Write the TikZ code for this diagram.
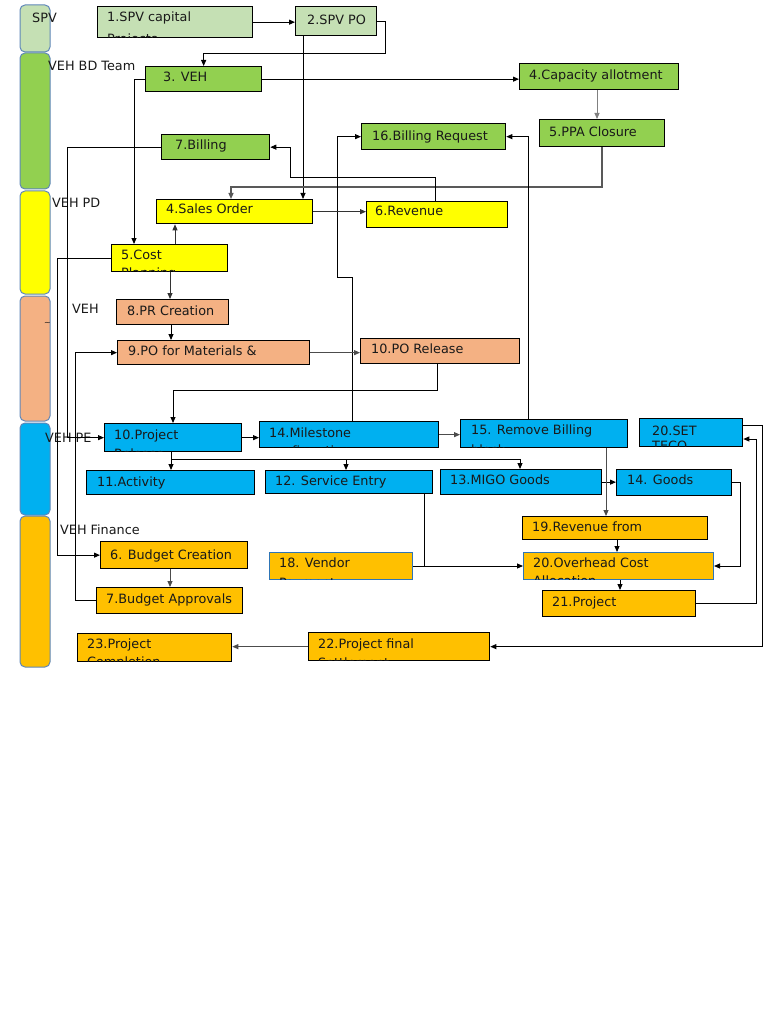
\documentclass[tikz,border=0pt]{standalone}
\usepackage{fontspec}
\setmainfont{DejaVu Sans}
\usetikzlibrary{arrows.meta,calc}
\definecolor{cLG}{HTML}{C5E0B4}
\definecolor{cGR}{HTML}{92D050}
\definecolor{cYE}{HTML}{FFFF00}
\definecolor{cSA}{HTML}{F4B183}
\definecolor{cBL}{HTML}{00B0F0}
\definecolor{cOR}{HTML}{FFC000}
\definecolor{cLane}{RGB}{95,135,185}
\definecolor{cBB}{RGB}{46,117,182}
\newcommand\flowbox[9]{%
  \node[#2, minimum width=#5pt, minimum height=#6pt, anchor=north west] (#1) at (#3,#4) {};
  \node[txt, anchor=base west] (#1-t) at ([shift={(#7pt,-#8pt)}]#1.north west) {#9};
}
\newcommand\flowsub[4]{%
  \begin{scope}
    \clip ([shift={(0.7pt,-0.7pt)}]#1.north west) rectangle ([shift={(-0.7pt,0.7pt)}]#1.south east);
    \node[txt, anchor=base west] (#1-u) at ([shift={(#2pt,-#3pt)}]#1.north west) {#4};
  \end{scope}
}
\begin{document}
\begin{tikzpicture}[x=1pt,y=-1pt,
  txt/.style={inner sep=0pt, font=\fontsize{12.8}{15}\selectfont, text=black!90},
  box/.style={draw=black, line width=1.3pt, fill=#1, inner sep=0pt},
  bbox/.style={draw=cBB, line width=1pt, fill=#1, inner sep=0pt},
  lane/.style={draw=cLane, line width=1pt, rounded corners=5pt, fill=#1},
  arr/.style={-{Triangle[length=6pt,width=5pt]}, line width=0.9pt, draw=black},
  ln/.style={line width=0.9pt, draw=black}]
\fill[white] (0,0) rectangle (768,1024);
\useasboundingbox (0,0) rectangle (768,1024);

% swimlane bars
\draw[lane=cLG] (20,5) rectangle (50,52);
\draw[lane=cGR] (20,53) rectangle (50,189);
\draw[lane=cYE] (20,191) rectangle (50,294);
\draw[lane=cSA] (20,296) rectangle (50,421);
\draw[lane=cBL] (20,423) rectangle (50,515);
\draw[lane=cOR] (20,516) rectangle (50,667);

% lane labels
\node[txt, anchor=base west] (lSPV) at (32,23) {SPV};
\node[txt, anchor=base west] (lBD) at (48,71) {VEH BD Team};
\node[txt, anchor=base west] (lPD) at (52,208) {VEH PD};
\node[txt, anchor=base west] (lVEH) at (72,313) {VEH};
\node[txt, anchor=base west] (lPE) at (45,442) {VEH PE};
\node[txt, anchor=base west] (lFIN) at (60,534) {VEH Finance};
\node[txt, anchor=base west, font=\fontsize{8}{9}\selectfont] (lmark) at (44,325) {\textasciitilde};

% boxes
\flowbox{b1}{box=cLG}{97}{6}{155}{31}{10}{16}{1.SPV capital}
\flowsub{b1}{10}{38}{Projects}
\flowbox{b2}{box=cLG}{295}{6}{81}{29}{12}{19}{2.SPV PO}
\flowbox{b3}{box=cGR}{145}{66}{116}{25}{18}{16}{3. VEH}
\flowbox{b4c}{box=cGR}{519}{63}{159}{26}{10}{17}{4.Capacity allotment}
\flowbox{b5p}{box=cGR}{539}{119}{125}{27}{10}{18}{5.PPA Closure}
\flowbox{b7b}{box=cGR}{161}{134}{108}{25}{14}{16}{7.Billing}
\flowbox{b16}{box=cGR}{361}{123}{144}{26}{11}{18}{16.Billing Request}
\flowbox{bSO}{box=cYE}{156}{199}{156}{24}{10}{15}{4.Sales Order}
\flowbox{bRev}{box=cYE}{366}{201}{141}{26}{9}{15}{6.Revenue}
\flowbox{b5c}{box=cYE}{111}{244}{116}{27}{10}{15}{5.Cost}
\flowsub{b5c}{10}{33}{Planning}
\flowbox{b8}{box=cSA}{116}{299}{112}{25}{11}{16}{8.PR Creation}
\flowbox{b9}{box=cSA}{117}{340}{192}{24}{11}{15}{9.PO for Materials \&}
\flowbox{b10p}{box=cSA}{360}{338}{159}{25}{11}{15}{10.PO Release}
\flowbox{b10j}{box=cBL}{104}{423}{137}{28}{10}{16}{10.Project}
\flowsub{b10j}{10}{35}{Release}
\flowbox{b14m}{box=cBL}{259}{421}{179}{26}{10}{16}{14.Milestone}
\flowsub{b14m}{10}{34}{confirmation}
\flowbox{b15}{box=cBL}{460}{419}{167}{28}{11}{15}{15. Remove Billing}
\flowsub{b15}{11}{35}{block}
\flowbox{b20s}{box=cBL}{639}{418}{103}{28}{13}{17}{20.SET}
\flowsub{b20s}{13}{32}{TECO}
\flowbox{b11}{box=cBL}{86}{470}{168}{24}{11}{16}{11.Activity}
\flowbox{b12}{box=cBL}{265}{470}{167}{23}{10}{15}{12. Service Entry}
\flowbox{b13}{box=cBL}{440}{469}{161}{25}{10}{15}{13.MIGO Goods}
\flowbox{b14g}{box=cBL}{616}{469}{115}{26}{11}{15}{14. Goods}
\flowbox{b19}{box=cOR}{522}{516}{185}{23}{10}{15}{19.Revenue from}
\flowbox{b6bc}{box=cOR}{100}{541}{147}{27}{10}{18}{6. Budget Creation}
\flowbox{b18}{bbox=cOR}{269}{552}{143}{27}{10}{15}{18. Vendor}
\flowsub{b18}{10}{35}{Payment}
\flowbox{b20o}{bbox=cOR}{523}{552}{190}{27}{10}{15}{20.Overhead Cost}
\flowsub{b20o}{10}{33}{Allocation}
\flowbox{b7ba}{box=cOR}{96}{587}{146}{26}{10}{16}{7.Budget Approvals}
\flowbox{b21}{box=cOR}{542}{590}{153}{26}{10}{16}{21.Project}
\flowbox{b23}{box=cOR}{77}{633}{154}{28}{10}{15}{23.Project}
\flowsub{b23}{10}{33}{Completion}
\flowbox{b22}{box=cOR}{308}{632}{181}{28}{10}{16}{22.Project final}
\flowsub{b22}{10}{35}{Settlement}

% connectors
\draw[arr] (b1.east) -- (b1.east -| b2.west);
\draw[arr] (b2.east) -| (385,53) -| (b3.north);
\draw[arr] (303,0 |- b2.south) -- (303,0 |- bSO.north);
\draw[arr] (b3.east) -- (b3.east -| b4c.west);
\draw[arr] (b3.west) -| (134,0 |- b5c.north);
\draw[arr, draw=gray] (597,0 |- b4c.south) -- (597,0 |- b5p.north);
\draw[arr, draw=black!65, line width=1.2pt] (602,0 |- b5p.south) |- (231,187) -- (231,0 |- bSO.north);
\draw[arr] (435,0 |- bRev.north) |- (290,177) |- (b7b.east);
\draw[arr] (352,0 |- b14m.north) |- (337,277) |- (b16.west);
\draw[arr] (528,0 |- b15.north) |- (b16.east);
\draw[arr, draw=black!80] (bSO.east) -- (bSO.east -| bRev.west);
\draw[arr, draw=black!80] (175,0 |- b5c.north) -- (175,0 |- bSO.south);
\draw[arr, draw=black!80] (170,0 |- b5c.south) -- (170,0 |- b8.north);
\draw[arr] (171,0 |- b8.south) -- (171,0 |- b9.north);
\draw[arr, draw=black!70] (b9.east) -- (b9.east -| b10p.west);
\draw[arr] (437,0 |- b10p.south) |- (173,390) -- (173,0 |- b10j.north);
\draw[arr] (b5c.west) -| (57,0 |- b6bc.west) -- (b6bc.west);
\draw[arr] (b7ba.west) -| (75,0 |- b9.west) -- (b9.west);
\draw[arr] (b7b.west) -| (67,0 |- b10j.west) -- (b10j.west);
\draw[arr] (b10j.east) -- (b10j.east -| b14m.west);
\draw[arr, draw=black!70] (b14m.east) -- (b14m.east -| b15.west);
\draw[arr] (171,0 |- b10j.south) -- (171,0 |- b11.north);
\coordinate (j1) at (171,459);
\coordinate (j2) at (346,459);
\coordinate (j3) at (520,459);
\draw[ln] (j1) -- (j3);
\draw[arr] (j2) -- (j2 |- b12.north);
\draw[arr] (j3) -- (j3 |- b13.north);
\draw[arr] (b13.east) -- (b13.east -| b14g.west);
\draw[arr, draw=black!70] (606,0 |- b15.south) -- (606,0 |- b19.north);
\draw[arr] (b14g.east) -| (740,0 |- b20o.east) -- (b20o.east);
\draw[arr] (617,0 |- b19.south) -- (617,0 |- b20o.north);
\draw[arr] (620,0 |- b20o.south) -- (620,0 |- b21.north);
\draw[arr] (424,0 |- b12.south) |- (b20o.west);
\draw[ln] (b18.east) -- (424,0 |- b18.east);
\draw[arr] (b21.east) -| (756,439) -- (b20s.east |- 0,439);
\draw[arr] (b20s.east |- 0,425) -| (762,0 |- b22.east) -- (b22.east);
\draw[arr, draw=black!70] (170,0 |- b6bc.south) -- (170,0 |- b7ba.north);
\draw[arr, draw=black!70] (b22.west) -- (b22.west -| b23.east);
\end{tikzpicture}
\end{document}
